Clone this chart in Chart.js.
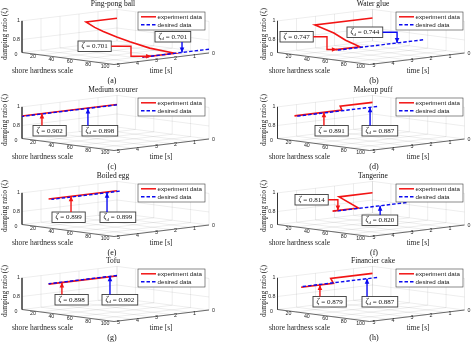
<!DOCTYPE html>
<html>
<head>
<meta charset="utf-8">
<script src="https://cdn.jsdelivr.net/npm/chart.js@4.4.1/dist/chart.umd.min.js"></script>
<style>
  body { margin: 0; background: #fff; }
  #fig { position: relative; width: 474px; height: 343px; overflow: hidden; background: #fff; }
  #fig canvas { position: absolute; }
</style>
</head>
<body>
<div id="fig"></div>
<script>
// ---------------- DATA ----------------

// axes
const hardTicks = [0, 20, 40, 60, 80, 100];
const timeTicks = [0, 1, 2, 3, 4, 5];
const zetaTicks = [0.8, 1];
const zetaMin = 0.66;

const titles = ['Ping-pong ball', 'Water glue', 'Medium scourer', 'Makeup puff',
                'Boiled egg', 'Tangerine', 'Tofu', 'Financier cake'];
const captions = ['(a)', '(b)', '(c)', '(d)', '(e)', '(f)', '(g)', '(h)'];
const zetaExp = [0.701, 0.747, 0.902, 0.891, 0.899, 0.814, 0.898, 0.879];
const zetaDes = [0.701, 0.744, 0.898, 0.887, 0.899, 0.820, 0.902, 0.887];

// points : [time s, shore hardness, damping ratio]
const expPingPong = [[0, 0, 0.905], [1.63, 0, 0.905], [1.66, 10, 0.86], [1.69, 20, 0.83], [1.71, 35, 0.79],
                     [1.74, 50, 0.76], [1.77, 72, 0.72], [1.8, 100, 0.701], [3.5, 100, 0.701]];
const desPingPong = [[0, 100, 0.701], [3.5, 100, 0.701]];

const expGlue = [[0, 0, 0.907], [3.03, 0, 0.907], [3.1, 22, 0.851], [3.16, 36, 0.793], [3.23, 53, 0.747], [4.5, 53, 0.747]];
const desGlue = [[0, 55, 0.744], [4.5, 55, 0.744]];

const expScourer = [[0, 0, 0.902], [5, 0, 0.902]];
const desScourer = [[0, 0, 0.898], [5, 0, 0.898]];

const expPuff = [[0, 0, 0.925], [1.7, 0, 0.925], [1.8, 4, 0.891], [4.3, 4, 0.891]];
const desPuff = [[0, 5, 0.887], [4.3, 5, 0.887]];

const expEgg = [[0, 0, 0.899], [3.6, 0, 0.899]];
const desEgg = [[0, 3, 0.899], [3.6, 3, 0.899]];

const expTangerine = [[0, 0, 0.877], [1.76, 0, 0.877], [2.34, 33, 0.814], [3.7, 33, 0.814]];
const desTangerine = [[0, 37, 0.820], [3.75, 37, 0.820]];

const expTofu = [[0, 0, 0.898], [3.6, 0, 0.898]];
const desTofu = [[0, 0, 0.902], [3.6, 0, 0.902]];

const expCake = [[0, 0, 0.925], [2.2, 0, 0.925], [2.25, 4, 0.879], [3.95, 4, 0.879]];
const desCake = [[0, 5, 0.887], [3.95, 5, 0.887]];

const expSeries = [expPingPong, expGlue, expScourer, expPuff, expEgg, expTangerine, expTofu, expCake];
const desSeries = [desPingPong, desGlue, desScourer, desPuff, desEgg, desTangerine, desTofu, desCake];

// ---------------- LAYOUT ----------------
const W = 237, H = 86;
const rowTop = [0, 86, 172, 257];
const red = '#f21414', blue = '#0a0af0';
const serif = '"Liberation Serif", "Times New Roman", serif';
const sans = '"Liberation Sans", Arial, sans-serif';

// annotation boxes (panel pixels) and the time where the arrow hits the curve
const notes = [
    [{ box: [78, 41], route: 'elbow', bend: 131, t: 3.05 }, { box: [155, 31.5], route: 'down', t: 1.42 }],
    [{ box: [43, 31.5], route: 'elbow', bend: 90, t: 4.44 }, { box: [110, 27], route: 'corner', t: 1.37 }],
    [{ box: [33, 39.5], route: 'up', t: 3.95 }, { box: [82, 39.5], route: 'up', t: 1.53 }],
    [{ box: [78, 39.5], route: 'up', t: 2.75 }, { box: [125, 39.5], route: 'up', t: 0.37 }],
    [{ box: [52, 40], route: 'up', t: 2.42 }, { box: [100, 40], route: 'up', t: 0.67 }],
    [{ box: [58, 22.5], route: 'corner', t: 3.42 }, { box: [125, 43], route: 'up', t: 1.39 }],
    [{ box: [55, 37.5], route: 'up', t: 2.9 }, { box: [102, 37.5], route: 'up', t: 0.37 }],
    [{ box: [76, 39.5], route: 'up', t: 2.96 }, { box: [125, 39.5], route: 'up', t: 0.53 }]
];

// oblique view of the 3D box (time 5 in front, time 0 at the back)
function project(col, t, h, z) {
    const x0 = col ? 40.5 : 22, y0 = 52.5;
    const u = h / 100, s = (5 - t) / 5;
    return { x: x0 + 92 * u + 95 * s, y: y0 + 12 * u - 11.5 * s - 93 * (z - zetaMin) };
}

function pointAt(series, t) {
    for (let k = 1; k < series.length; k++) {
        const a = series[k - 1], b = series[k];
        if (a[0] !== b[0] && (t - a[0]) * (t - b[0]) <= 0) {
            const f = (t - a[0]) / (b[0] - a[0]);
            return [t, a[1] + f * (b[1] - a[1]), a[2] + f * (b[2] - a[2])];
        }
    }
    return series[series.length - 1];
}

function gridPoints(col) {
    const pts = [];
    const p = (t, h, z) => project(col, t, h, z);
    const seg = (a, b) => pts.push(a, b, { x: null, y: null });
    hardTicks.forEach(h => { seg(p(5, h, zetaMin), p(0, h, zetaMin)); seg(p(0, h, zetaMin), p(0, h, 1)); });
    timeTicks.forEach(t => { seg(p(t, 0, zetaMin), p(t, 100, zetaMin)); seg(p(t, 0, zetaMin), p(t, 0, 1)); });
    zetaTicks.forEach(z => { seg(p(5, 0, z), p(0, 0, z)); seg(p(0, 0, z), p(0, 100, z)); });
    return pts;
}

function axisPoints(col) {
    const p = (t, h, z) => project(col, t, h, z);
    return [p(5, 0, 1), p(5, 0, zetaMin), p(5, 100, zetaMin), p(0, 100, zetaMin)];
}

// ---------------- TEXT / ANNOTATIONS ----------------
function drawArrow(ctx, pts, color) {
    ctx.save();
    ctx.strokeStyle = color;
    ctx.fillStyle = color;
    ctx.lineWidth = 1.4;
    ctx.beginPath();
    pts.forEach((q, k) => k ? ctx.lineTo(q[0], q[1]) : ctx.moveTo(q[0], q[1]));
    ctx.stroke();
    const [x1, y1] = pts[pts.length - 2], [x2, y2] = pts[pts.length - 1];
    const a = Math.atan2(y2 - y1, x2 - x1), len = 5, wid = 2.3;
    ctx.beginPath();
    ctx.moveTo(x2, y2);
    ctx.lineTo(x2 - len * Math.cos(a) + wid * Math.sin(a), y2 - len * Math.sin(a) - wid * Math.cos(a));
    ctx.lineTo(x2 - len * Math.cos(a) - wid * Math.sin(a), y2 - len * Math.sin(a) + wid * Math.cos(a));
    ctx.closePath();
    ctx.fill();
    ctx.restore();
}

function zetaLabel(ctx, x, y, sub, value) {
    const fz = 'italic 7.5px ' + serif, fs = 'italic 5px ' + serif, fv = '7px ' + serif;
    const rest = ' = ' + value.toFixed(3);
    ctx.font = fz; const wz = ctx.measureText('ζ').width;
    ctx.font = fs; const ws = sub ? ctx.measureText('d').width : 0;
    ctx.font = fv; const wv = ctx.measureText(rest).width;
    const w = wz + ws + wv + 7, h = 10.5;
    ctx.fillStyle = '#fff';
    ctx.fillRect(x, y, w, h);
    ctx.strokeStyle = '#3c3c3c';
    ctx.lineWidth = 0.9;
    ctx.strokeRect(x, y, w, h);
    ctx.fillStyle = '#111';
    ctx.textAlign = 'left';
    ctx.textBaseline = 'middle';
    let cx = x + 3.5;
    ctx.font = fz; ctx.fillText('ζ', cx, y + h / 2); cx += wz;
    if (sub) { ctx.font = fs; ctx.fillText('d', cx, y + h / 2 + 2); cx += ws; }
    ctx.font = fv; ctx.fillText(rest, cx, y + h / 2);
    return { x, y, w, h };
}

const panelText = {
    id: 'panelText',
    afterDraw(chart, args, opts) {
        const i = opts.index, col = i % 2;
        const ctx = chart.ctx;
        const sx = v => chart.scales.x.getPixelForValue(v);
        const sy = v => chart.scales.y.getPixelForValue(v);
        const P = (t, h, z) => { const q = project(col, t, h, z); return [sx(q.x), sy(q.y)]; };
        ctx.save();

        // title, axis labels, caption
        ctx.fillStyle = '#111';
        ctx.textAlign = 'center';
        ctx.textBaseline = 'middle';
        ctx.font = '7.5px ' + serif;
        ctx.fillText(titles[i], col ? 136 : 113, 4.5);
        ctx.fillStyle = '#262626';
        ctx.fillText('shore hardness scale', col ? 62.5 : 42.5, 71.5);
        ctx.fillText('time [s]', col ? 181 : 161, 71.5);
        ctx.fillStyle = '#111';
        ctx.font = '8px ' + serif;
        ctx.fillText(captions[i], col ? 137 : 112, 80.5);
        ctx.save();
        ctx.translate(col ? 27 : 5.5, 34);
        ctx.rotate(-Math.PI / 2);
        ctx.fillStyle = '#262626';
        ctx.font = '7.5px ' + serif;
        ctx.fillText('damping ratio (ζ)', 0, 0);
        ctx.restore();

        // tick labels
        ctx.fillStyle = '#262626';
        ctx.font = '5.3px ' + sans;
        ctx.textAlign = 'right';
        hardTicks.forEach(h => { const [x, y] = P(5, h, zetaMin); ctx.fillText(String(h), x - 4.5, y + 2); });
        zetaTicks.forEach(z => { const [x, y] = P(5, 0, z); ctx.fillText(String(z), x - 2, y); });
        ctx.textAlign = 'left';
        timeTicks.forEach(t => { const [x, y] = P(t, 100, zetaMin); ctx.fillText(String(t), x + 3, y + 1); });

        // legend
        const lx = col ? 159 : 138, ly = 12;
        ctx.fillStyle = '#fff';
        ctx.fillRect(lx, ly, 67, 18);
        ctx.strokeStyle = '#3c3c3c';
        ctx.lineWidth = 0.6;
        ctx.strokeRect(lx, ly, 67, 18);
        ctx.lineWidth = 1.5;
        ctx.strokeStyle = red;
        ctx.beginPath(); ctx.moveTo(lx + 3, ly + 4.8); ctx.lineTo(lx + 18, ly + 4.8); ctx.stroke();
        ctx.strokeStyle = blue;
        ctx.setLineDash([3.5, 2]);
        ctx.beginPath(); ctx.moveTo(lx + 3, ly + 12.8); ctx.lineTo(lx + 18, ly + 12.8); ctx.stroke();
        ctx.setLineDash([]);
        ctx.fillStyle = '#1a1a1a';
        ctx.font = '6.2px ' + sans;
        ctx.fillText('experiment data', lx + 19.5, ly + 5);
        ctx.fillText('desired data', lx + 19.5, ly + 13);

        // zeta boxes + arrows
        [[notes[i][0], expSeries[i], zetaExp[i], false, red],
         [notes[i][1], desSeries[i], zetaDes[i], true, blue]].forEach(([n, series, value, sub, color]) => {
            const q = pointAt(series, n.t);
            const tip = P(q[0], q[1], q[2]);
            const b = zetaLabel(ctx, n.box[0], n.box[1], sub, value);
            const cy = b.y + b.h / 2;
            let path;
            if (n.route === 'up') path = [[tip[0], b.y], tip];
            else if (n.route === 'down') path = [[tip[0], b.y + b.h], tip];
            else if (n.route === 'corner') path = [[b.x + b.w, cy], [tip[0], cy], tip];
            else path = [[b.x + b.w, cy], [n.bend, cy], [n.bend, tip[1]], tip];
            drawArrow(ctx, path, color);
        });
        ctx.restore();
    }
};

// ---------------- CHARTS ----------------
const fig = document.getElementById('fig');

titles.forEach((title, i) => {
    const col = i % 2, row = Math.floor(i / 2);
    const canvas = document.createElement('canvas');
    canvas.width = W;
    canvas.height = H;
    canvas.style.left = (col * W) + 'px';
    canvas.style.top = rowTop[row] + 'px';
    canvas.style.width = W + 'px';
    canvas.style.height = H + 'px';
    fig.appendChild(canvas);

    const toXY = series => series.map(([t, h, z]) => project(col, t, h, z));

    new Chart(canvas, {
        type: 'scatter',
        data: {
            datasets: [
                { label: 'desired data', data: toXY(desSeries[i]), showLine: true, borderColor: blue,
                  borderWidth: 1.4, borderDash: [3.5, 2], pointRadius: 0, order: 0 },
                { label: 'experiment data', data: toXY(expSeries[i]), showLine: true, borderColor: red,
                  borderWidth: 1.6, pointRadius: 0, order: 1 },
                { data: axisPoints(col), showLine: true, borderColor: '#303030', borderWidth: 0.7,
                  pointRadius: 0, order: 2 },
                { data: gridPoints(col), showLine: true, borderColor: 'rgba(0,0,0,0.12)', borderWidth: 0.6,
                  pointRadius: 0, order: 3 }
            ]
        },
        options: {
            responsive: false,
            animation: false,
            events: [],
            layout: { padding: 0 },
            elements: { line: { tension: 0, borderCapStyle: 'butt' } },
            scales: {
                x: { type: 'linear', min: 0, max: W, display: false },
                y: { type: 'linear', min: 0, max: H, reverse: true, display: false }
            },
            plugins: {
                legend: { display: false },
                tooltip: { enabled: false },
                panelText: { index: i }
            }
        },
        plugins: [panelText]
    });
});
</script>
</body>
</html>
